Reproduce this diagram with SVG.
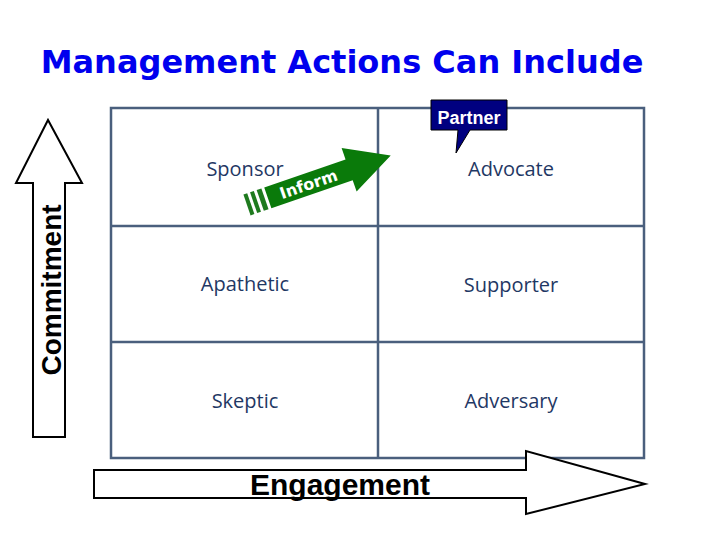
<svg xmlns="http://www.w3.org/2000/svg" width="720" height="540" viewBox="0 0 720 540">
<style>
.cell{font-family:"Open Sans","DejaVu Sans",sans-serif;font-size:20px;fill:#1f3864;text-anchor:middle}
.grid{stroke:#4a5f7d;stroke-width:2.5;fill:none}
.out{fill:#fff;stroke:#000;stroke-width:2}
</style>
<rect width="720" height="540" fill="#fff"/>
<text x="342" y="73" font-family="Verdana,'DejaVu Sans',sans-serif" font-weight="bold" font-size="32" fill="#0000ee" text-anchor="middle">Management Actions Can Include</text>
<g id="grid">
<rect class="grid" x="111" y="108" width="533" height="350"/>
<line class="grid" x1="378" y1="108" x2="378" y2="458"/>
<line class="grid" x1="111" y1="226" x2="644" y2="226"/>
<line class="grid" x1="111" y1="342" x2="644" y2="342"/>
</g>
<g id="sponsor"><text class="cell" x="245" y="176">Sponsor</text></g>
<g id="advocate"><text class="cell" x="511" y="176">Advocate</text></g>
<g id="apathetic"><text class="cell" x="245" y="291">Apathetic</text></g>
<g id="supporter"><text class="cell" x="511" y="292">Supporter</text></g>
<g id="skeptic"><text class="cell" x="245" y="408">Skeptic</text></g>
<g id="adversary"><text class="cell" x="511" y="408">Adversary</text></g>
<g id="commitment">
<path class="out" d="M33,437 L33,183 L16,183 L48,120 L82,183 L65,183 L65,437 Z"/>
<text transform="translate(61,290) rotate(-90)" font-family="'Liberation Sans',Arial,sans-serif" font-weight="bold" font-size="28" text-anchor="middle">Commitment</text>
</g>
<g id="engagement">
<path class="out" d="M94,470 L526,470 L526,451 L645,484 L526,514 L526,498 L94,498 Z"/>
<text x="340" y="495" font-family="'Liberation Sans',Arial,sans-serif" font-weight="bold" font-size="30" text-anchor="middle">Engagement</text>
</g>
<g id="inform" transform="translate(247,205) rotate(-19)">
<rect x="0" y="-11" width="4" height="22" fill="#1e7a1e"/>
<rect x="7" y="-11" width="4" height="22" fill="#1e7a1e"/>
<rect x="14" y="-11" width="5" height="22" fill="#1e7a1e"/>
<path d="M22,-11 L108,-11 L108,-23 L152,0 L108,23 L108,11 L22,11 Z" fill="#0a7a0a"/>
<text x="65" y="6" font-family="'DejaVu Sans',sans-serif" font-weight="bold" font-size="16" fill="#fff" text-anchor="middle">Inform</text>
</g>
<g id="partner">
<path d="M431,100 L507,100 L507,130 L470,130 L456,153 L458,130 L431,130 Z" fill="#000080" stroke="#000" stroke-width="1"/>
<text x="469" y="124" font-family="'Liberation Sans',Arial,sans-serif" font-weight="bold" font-size="18" fill="#fff" text-anchor="middle">Partner</text>
</g>
</svg>
